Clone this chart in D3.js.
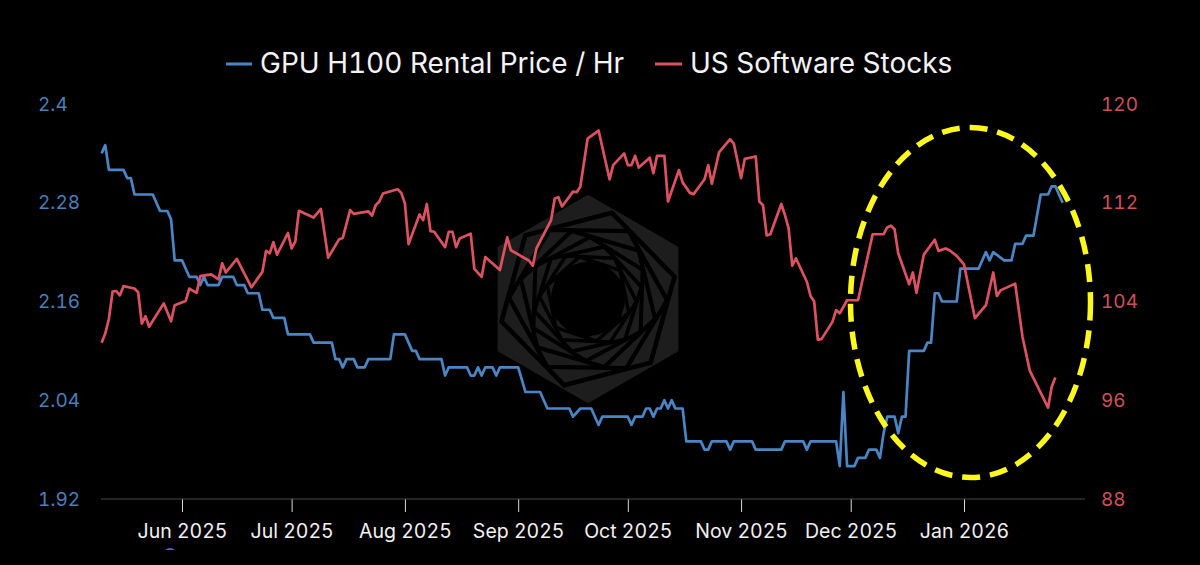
<!DOCTYPE html>
<html>
<head>
  <meta charset="UTF-8">
  <style>
    html, body { margin: 0; background: #000; }
    svg { display: block; }
    text { font-family: "Inter", "Noto Sans", sans-serif; font-variant-numeric: tabular-nums; }
  </style>
</head>
<body>
<svg></svg>
<script src="https://d3js.org/d3.v7.min.js"></script>
<script>

let width = 1200, height = 565;

// days are counted from the first sample, 10 May 2025
let startDate = new Date(Date.UTC(2025, 4, 10));

let gpuDays = [0,1,2,6,7,8,9,14,16,18,19,20,22,24,26,27,28,29,32,33,36,37,39,40,43,44,46,47,50,51,57,58,63,64,65,66,67,69,70,72,73,79,80,83,85,86,87,93,94,95,100,101,102,103,104,105,107,108,109,114,116,120,122,128,129,131,134,136,137,144,145,146,148,149,150,151,152,153,154,155,156,157,159,160,164,165,166,167,171,172,173,178,179,186,187,192,193,194,201,202,203,204,206,207,209,210,212,213,214,215,217,218,219,220,221,225,226,227,228,229,230,234,235,240,242,243,244,247,249,250,252,253,255,257,259,260,261,263];
let gpuPrice = [2.34,2.35,2.32,2.32,2.31,2.31,2.29,2.29,2.27,2.27,2.26,2.21,2.21,2.19,2.19,2.18,2.19,2.18,2.18,2.19,2.19,2.18,2.18,2.17,2.17,2.15,2.15,2.14,2.14,2.12,2.12,2.11,2.11,2.09,2.09,2.08,2.09,2.09,2.08,2.08,2.09,2.09,2.12,2.12,2.10,2.10,2.09,2.09,2.07,2.08,2.08,2.07,2.07,2.08,2.07,2.08,2.08,2.07,2.08,2.08,2.05,2.05,2.03,2.03,2.02,2.03,2.03,2.01,2.02,2.02,2.01,2.02,2.02,2.03,2.03,2.02,2.03,2.03,2.04,2.03,2.04,2.03,2.03,1.99,1.99,1.98,1.98,1.99,1.99,1.98,1.99,1.99,1.98,1.98,1.99,1.99,1.98,1.99,1.99,1.96,2.05,1.96,1.96,1.97,1.97,1.98,1.98,1.97,2.00,2.02,2.02,2.00,2.02,2.02,2.10,2.10,2.11,2.11,2.17,2.17,2.16,2.16,2.20,2.20,2.22,2.21,2.22,2.21,2.21,2.23,2.23,2.24,2.24,2.29,2.29,2.30,2.30,2.28];

let stockDays = [0,1,2,3,4,5,6,9,10,11,12,13,17,19,20,23,24,26,27,30,32,33,34,37,41,44,45,46,47,48,51,52,53,54,58,60,62,65,66,68,69,73,74,75,76,77,81,82,83,84,87,88,89,90,91,94,95,96,97,98,101,102,104,105,109,111,112,117,118,119,123,124,125,126,129,130,131,133,136,139,140,143,144,145,146,147,150,151,152,154,155,158,159,161,162,165,166,167,169,172,173,175,176,179,180,181,182,183,186,187,188,189,190,193,194,195,196,197,200,201,202,204,207,211,214,215,216,217,218,221,222,223,225,228,229,231,232,234,236,239,242,244,245,246,250,252,254,259,260,261];
let stockLevel = [100.65,101.4,102.6,104.8,104.85,104.5,105.25,105.05,104.75,102.2,102.8,101.95,103.85,102.4,103.7,104.05,105.05,104.7,106.05,106.2,105.8,107.1,106.35,107.45,105.15,106.4,108.1,107.9,108.8,107.8,109.55,108.3,108.85,111.35,110.8,111.5,107.55,109.05,109.15,111.4,111.1,111.3,110.95,111.8,112.1,112.75,113.1,112.8,111.95,108.65,111.05,110.6,111.9,109.7,109.65,108.4,109.65,109.65,108.4,109.1,109.5,106.65,106,107.6,106.55,109.2,108.15,107.3,106.9,108.3,110.6,112.35,112.45,111.7,112.9,112.85,113.3,117.2,117.85,113.9,115.05,116,115.05,115.05,115.8,114.85,115.65,114.4,115.8,115.8,112.1,114.65,113.65,112.8,112.7,113.9,115.05,113.55,116.1,117.15,116.8,114,115.55,115.75,112.1,111.8,109.35,109.45,111.9,111,109.95,106.9,107.5,105.6,104.45,104,100.9,100.95,102.35,103.3,103.05,104.1,104.1,109.45,109.45,110,110.15,109.85,107.9,105.4,106.35,104.7,107.8,109,108.1,108.3,108.15,107.7,107,102.65,103.7,106.35,104.45,104.9,105.45,101.15,98.4,95.4,97.1,97.85];

let gpuTicks = [1.92, 2.04, 2.16, 2.28, 2.4];
let stockTicks = [88, 96, 104, 112, 120];
let legendNames = ["GPU H100 Rental Price / Hr", "US Software Stocks"];

let blue = "#4a86c5", red = "#dd5260";

let svg = d3.select("svg")
    .attr("width", width)
    .attr("height", height)
    .attr("viewBox", "0 0 " + width + " " + height)
    .style("background", "#000");

let x = d3.scaleUtc()
    .domain([new Date(Date.UTC(2025, 5, 1)), new Date(Date.UTC(2026, 0, 1))])
    .range([182, 964]);
let yGpu = d3.scaleLinear().domain([1.92, 2.4]).range([499, 104]);
let yStock = d3.scaleLinear().domain([88, 120]).range([499, 104]);

// watermark: hexagon with a spiral of smaller rotated hexagons cut out of it
let cx = 588, cy = 299;
function hexPoints(r, rot) {
    return d3.range(6).map(i => {
        let a = rot + i * Math.PI / 3 - Math.PI / 2;
        return [cx + r * Math.cos(a), cy + r * Math.sin(a)];
    });
}
let mark = svg.append("g").attr("id", "watermark");
mark.append("path")
    .attr("d", "M" + hexPoints(102, 0).join("L") + "Z")
    .attr("fill", "#1d1d1d")
    .attr("stroke", "#1d1d1d")
    .attr("stroke-width", 4)
    .attr("stroke-linejoin", "round");
d3.range(11).forEach(i => {
    mark.append("path")
        .attr("d", "M" + hexPoints(101 * Math.pow(0.885, i + 1), 0.27 * (i + 1)).join("L") + "Z")
        .attr("fill", "none")
        .attr("stroke", "#000")
        .attr("stroke-width", 4.6 - i * 0.2);
});
mark.append("circle").attr("cx", cx).attr("cy", cy).attr("r", 37).attr("fill", "#000");

// axes
let xAxis = d3.axisBottom(x)
    .tickValues(d3.utcMonth.range(new Date(Date.UTC(2025, 5, 1)), new Date(Date.UTC(2026, 0, 2))))
    .tickFormat(d3.utcFormat("%b %Y"))
    .tickSize(13)
    .tickPadding(12);
let xGroup = svg.append("g").attr("transform", "translate(0,499)").call(xAxis);
xGroup.select(".domain").remove();
xGroup.selectAll("line").attr("stroke", "#d8d8d8");
xGroup.selectAll("text").attr("fill", "#f2f2f2").style("font-size", "19.5px");
svg.append("line")
    .attr("x1", 101).attr("x2", 1085)
    .attr("y1", 499).attr("y2", 499)
    .attr("stroke", "#4a4a4a");

let leftAxis = svg.append("g")
    .attr("transform", "translate(38,0)")
    .call(d3.axisLeft(yGpu).tickValues(gpuTicks).tickSize(0).tickFormat(d => d));
leftAxis.select(".domain").remove();
leftAxis.selectAll("text")
    .attr("x", 0)
    .attr("text-anchor", "start")
    .attr("fill", "#4a7fb9")
    .style("font-size", "19px");

let rightAxis = svg.append("g")
    .attr("transform", "translate(1101,0)")
    .call(d3.axisRight(yStock).tickValues(stockTicks).tickSize(0).tickFormat(d => d));
rightAxis.select(".domain").remove();
rightAxis.selectAll("text")
    .attr("x", 0)
    .attr("fill", "#cf4f5b")
    .style("font-size", "19px");

// series
let gpuLine = d3.line()
    .x(d => x(d3.utcDay.offset(startDate, d)))
    .y((d, i) => yGpu(gpuPrice[i]));
let stockLine = d3.line()
    .x(d => x(d3.utcDay.offset(startDate, d)))
    .y((d, i) => yStock(stockLevel[i]));

svg.append("path")
    .attr("d", gpuLine(gpuDays))
    .attr("fill", "none")
    .attr("stroke", blue)
    .attr("stroke-width", 2.7)
    .attr("stroke-linejoin", "round");
svg.append("path")
    .attr("d", stockLine(stockDays))
    .attr("fill", "none")
    .attr("stroke", red)
    .attr("stroke-width", 2.7)
    .attr("stroke-linejoin", "round");

// hand drawn highlight
svg.append("ellipse")
    .attr("cx", 970.5).attr("cy", 302.5)
    .attr("rx", 120).attr("ry", 175)
    .attr("fill", "none")
    .attr("stroke", "#fcf81e")
    .attr("stroke-width", 5.5)
    .attr("stroke-dasharray", "18 10");

// legend
let legendX = [[226, 252, 260], [655, 682, 690]];
let legendColor = [blue, red];
legendNames.forEach((name, i) => {
    svg.append("line")
        .attr("x1", legendX[i][0]).attr("x2", legendX[i][1])
        .attr("y1", 64).attr("y2", 64)
        .attr("stroke", legendColor[i])
        .attr("stroke-width", 3);
    svg.append("text")
        .attr("x", legendX[i][2])
        .attr("y", 73)
        .attr("fill", "#f4f4f4")
        .style("font-size", "28px")
        .text(name);
});

// small smudge under the Jun label in the source picture
svg.append("path")
    .attr("d", "M165,550Q170,546 175,550Z")
    .attr("fill", "#5b5bd6");

</script>
</body>
</html>
